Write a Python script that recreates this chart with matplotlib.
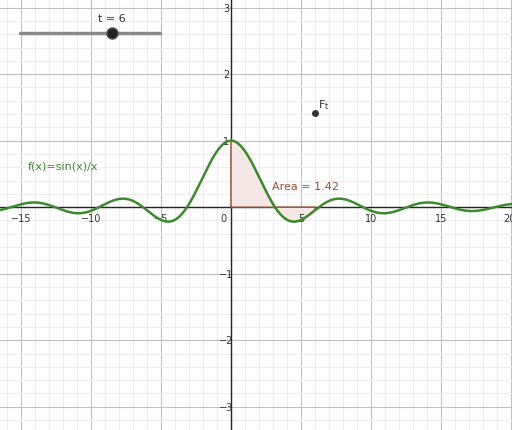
import numpy as np
import matplotlib
matplotlib.use("Agg")
import matplotlib.pyplot as plt

t_value = 6
area_value = 1.42
xmin, xmax = -16.5, 20.07
ymin, ymax = -3.35, 3.13
x_ticks = [-15, -10, -5, 5, 10, 15, 20]
y_ticks = [-3, -2, -1, 1, 2, 3]

fig = plt.figure(figsize=(5.12, 4.31), dpi=100)
ax = fig.add_axes([0, 0, 1, 1])
ax.set_xlim(xmin, xmax); ax.set_ylim(ymin, ymax)
ax.axis('off')

for gx in np.arange(-16, 21, 1):
    ax.axvline(gx, color='#c0c0c0' if gx % 5 == 0 else '#ededed', lw=0.8, zorder=0)
for gy in np.arange(-3.2, 3.2, 0.2):
    gy = round(gy, 1)
    ax.axhline(gy, color='#c0c0c0' if abs(gy - round(gy)) < 1e-6 else '#ededed', lw=0.8, zorder=0)
ax.axhline(0, color='#252525', lw=1, zorder=1)
ax.axvline(0, color='#252525', lw=1, zorder=1)
for v in x_ticks:
    ha = 'right' if v == 20 else 'center'
    xx = v + 0.3 if v == 20 else v
    ax.text(xx, -0.08, str(v).replace('-', '\u2212'), ha=ha, va='top', fontsize=7, color='#333333')
for v in y_ticks:
    ax.text(-0.35, v, str(v).replace('-', '\u2212'), ha='center', va='center', fontsize=7, color='#333333')
ax.text(-0.35, -0.08, '0', ha='right', va='top', fontsize=7, color='#333333')

x = np.linspace(xmin, xmax, 2000)
y = np.sinc(x / np.pi)
xs = np.linspace(0, t_value, 400)
ys = np.sinc(xs / np.pi)
ax.fill_between(xs, ys, 0, facecolor='#f3e8e4', edgecolor='none', zorder=1)
ax.plot(np.r_[0, xs, t_value, 0], np.r_[0, ys, 0, 0], color='#9b4a2a', lw=1, zorder=2)
ax.plot(x, y, color='#3d8a2e', lw=1.8, zorder=3)
ax.text(2.9, 0.27, f'Area = {area_value}', color='#9b4a2a', fontsize=8, zorder=4)
ax.text(-14.5, 0.58, 'f(x)=sin(x)/x', color='#3d8a2e', fontsize=8)
ax.plot([t_value], [area_value], 'o', color='#333333', ms=4)
ax.text(6.2, 1.5, r'F$_\mathregular{t}$', fontsize=8, color='#333333')

# slider
ax.plot([-15.1, -5.1], [2.62, 2.62], color='#8a8a8a', lw=2.5, solid_capstyle='round')
ax.plot([-8.5], [2.62], 'o', color='#222222', ms=8, mec='#555555')
ax.text(-8.5, 2.8, f't = {t_value}', ha='center', fontsize=8, color='#333333')

fig.savefig('out.png', dpi=100)
